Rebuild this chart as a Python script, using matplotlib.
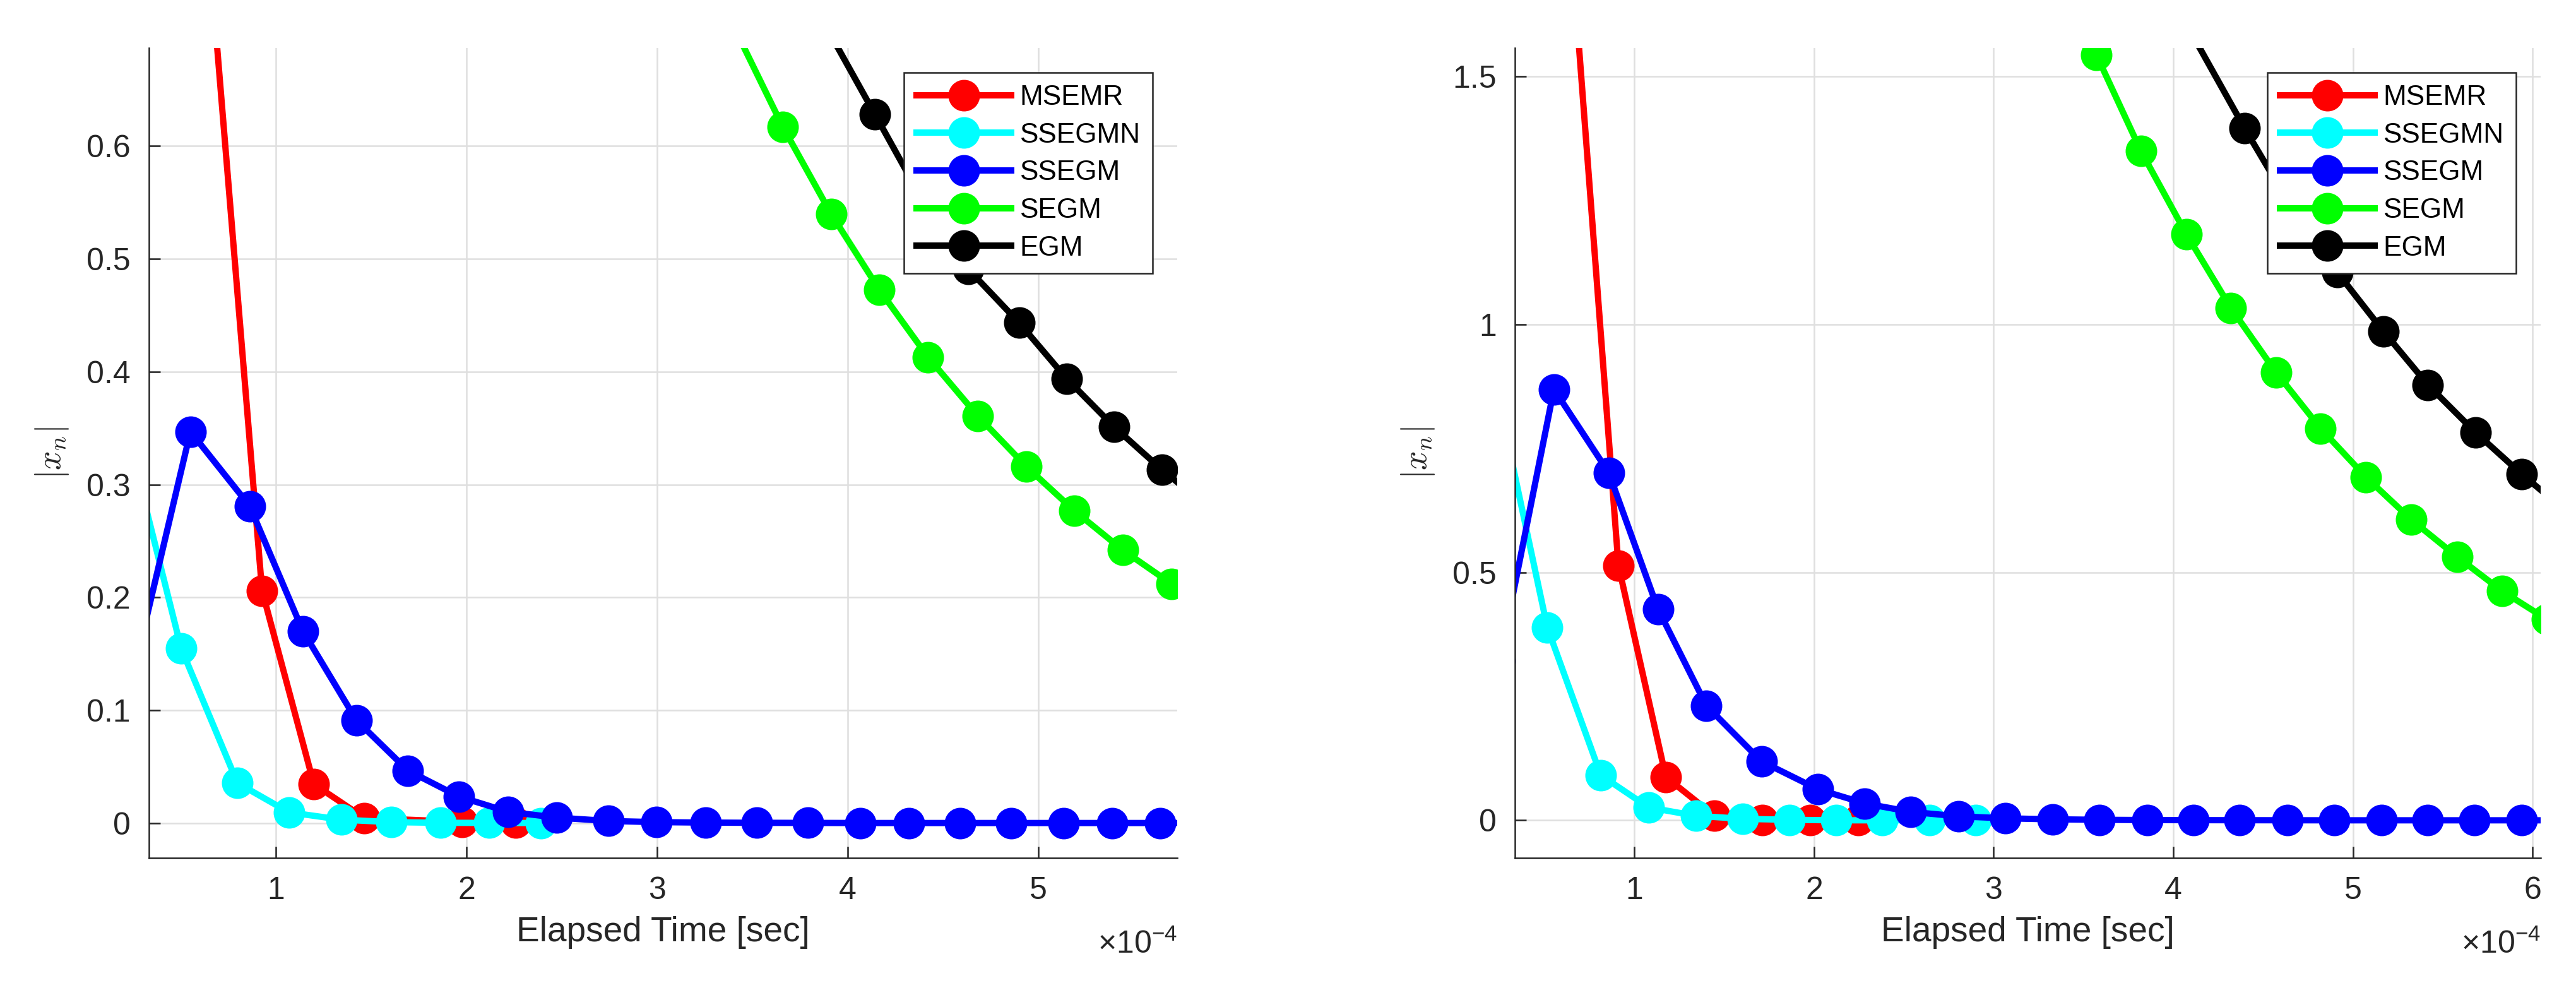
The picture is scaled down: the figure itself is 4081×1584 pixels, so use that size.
import matplotlib
matplotlib.use("Agg")
import matplotlib.pyplot as plt

# elapsed time in units of 1e-4 sec, |x_n|
# ---- left panel ----
t_msemr_l = [0.65, 0.926, 1.198, 1.463, 1.975, 2.256]
x_msemr_l = [0.77, 0.206, 0.0345, 0.0045, 0.001, 0.0003]

t_ssegmn_l = [0.20, 0.501, 0.797, 1.067, 1.342, 1.604, 1.862, 2.118, 2.390]
x_ssegmn_l = [0.358, 0.155, 0.0355, 0.0095, 0.003, 0.0008, 0.0002, 0.0001, 0.0]

t_ssegm_l = [0.25, 0.550, 0.861, 1.141, 1.422, 1.692, 1.959, 2.217, 2.473, 2.744, 2.998,
             3.256, 3.522, 3.793, 4.067, 4.322, 4.589, 4.860, 5.133, 5.389, 5.640, 5.905]
x_ssegm_l = [0.132, 0.347, 0.281, 0.170, 0.091, 0.0465, 0.0235, 0.010, 0.0048, 0.0018, 0.0008,
             0.0004, 0.0002, 0.0001, 0.0, 0.0, 0.0, 0.0, 0.0, 0.0, 0.0, 0.0]

t_segm_l = [3.405, 3.660, 3.913, 4.167, 4.422, 4.682, 4.938, 5.189, 5.444, 5.700, 5.955]
x_segm_l = [0.705, 0.617, 0.540, 0.4725, 0.413, 0.361, 0.316, 0.277, 0.242, 0.212, 0.186]

t_egm_l = [3.89, 4.144, 4.39, 4.633, 4.900, 5.149, 5.400, 5.651, 5.90]
x_egm_l = [0.705, 0.628, 0.553, 0.491, 0.4435, 0.394, 0.351, 0.313, 0.279]

# ---- right panel ----
t_msemr_r = [0.65, 0.911, 1.175, 1.446, 1.714, 1.980, 2.246]
x_msemr_r = [1.757, 0.514, 0.0875, 0.009, 0.001, 0.0, 0.0]

t_ssegmn_r = [0.23, 0.515, 0.813, 1.079, 1.343, 1.604, 1.865, 2.123, 2.380, 2.645, 2.900]
x_ssegmn_r = [0.873, 0.389, 0.091, 0.026, 0.009, 0.003, 0.001, 0.0, 0.0, 0.0, 0.0]

t_ssegm_r = [0.25, 0.552, 0.857, 1.131, 1.401, 1.707, 2.022, 2.283, 2.539, 2.805, 3.066, 3.329,
             3.590, 3.855, 4.112, 4.370, 4.634, 4.895, 5.160, 5.417, 5.675, 5.939, 6.20]
x_ssegm_r = [0.321, 0.869, 0.701, 0.426, 0.231, 0.119, 0.0625, 0.034, 0.017, 0.008, 0.004, 0.002,
             0.001, 0.0005, 0.0003, 0.0002, 0.0001, 0.0, 0.0, 0.0, 0.0, 0.0, 0.0]

t_segm_r = [3.572, 3.820, 4.072, 4.320, 4.572, 4.820, 5.072, 5.325, 5.581, 5.829, 6.08]
x_segm_r = [1.543, 1.349, 1.182, 1.033, 0.903, 0.790, 0.692, 0.606, 0.531, 0.4625, 0.405]

t_egm_r = [3.88, 4.397, 4.650, 4.912, 5.169, 5.417, 5.682, 5.939, 6.19]
x_egm_r = [1.73, 1.395, 1.240, 1.105, 0.986, 0.878, 0.782, 0.698, 0.622]

methods = ["MSEMR", "SSEGMN", "SSEGM", "SEGM", "EGM"]
colors = ["#ff0000", "#00ffff", "#0000ff", "#00ff00", "#000000"]

xticks_l = [1, 2, 3, 4, 5]
xticks_r = [1, 2, 3, 4, 5, 6]
yticks_l = [0, 0.1, 0.2, 0.3, 0.4, 0.5, 0.6]
ylabels_l = ["0", "0.1", "0.2", "0.3", "0.4", "0.5", "0.6"]
yticks_r = [0, 0.5, 1, 1.5]
ylabels_r = ["0", "0.5", "1", "1.5"]

plt.rcParams["font.family"] = ["Liberation Sans", "DejaVu Sans"]
plt.rcParams["mathtext.fontset"] = "custom"
plt.rcParams["mathtext.rm"] = "Liberation Sans"
plt.rcParams["mathtext.it"] = "Liberation Sans:italic"

AX_COLOR = "#262626"


def draw_panel(ax, data, xlim, ylim, xticks, yticks, ylabels):
    for (t, x), name, c in zip(data, methods, colors):
        ax.plot(t, x, "-o", color=c, lw=2.4, ms=11, label=name)
    ax.set_xlim(*xlim)
    ax.set_ylim(*ylim)
    ax.set_xticks(xticks)
    ax.set_xticklabels([str(v) for v in xticks])
    ax.set_yticks(yticks)
    ax.set_yticklabels(ylabels)
    ax.grid(True, color="#dfdfdf", lw=0.6)
    ax.set_axisbelow(True)
    for s in ["top", "right"]:
        ax.spines[s].set_visible(False)
    for s in ["left", "bottom"]:
        ax.spines[s].set_color(AX_COLOR)
        ax.spines[s].set_linewidth(0.6)
    ax.tick_params(direction="in", length=4.3, width=0.6, colors=AX_COLOR,
                   labelsize=12, pad=7)
    ax.set_xlabel("Elapsed Time [sec]", fontsize=13.2, color=AX_COLOR, labelpad=4)
    ax.set_ylabel(r"$|x_n|$", fontsize=13, color=AX_COLOR, labelpad=6,
                  math_fontfamily="cm")
    ax.text(1.0, -0.118, r"$\times10^{-4}$", transform=ax.transAxes, ha="right",
            va="baseline", fontsize=12, color=AX_COLOR)
    leg = ax.legend(loc="upper right", bbox_to_anchor=(0.976, 0.970), borderaxespad=0,
                    fontsize=10.6, fancybox=False, framealpha=1, edgecolor=AX_COLOR,
                    handlelength=3.4, handletextpad=0.3, labelspacing=0.42,
                    borderpad=0.45)
    leg.get_frame().set_linewidth(0.6)


fig = plt.figure(figsize=(4081 / 300, 1584 / 300), dpi=300)
ax1 = fig.add_axes([0.0578, 0.142, 0.3992, 0.810])
ax2 = fig.add_axes([0.5881, 0.142, 0.3982, 0.810])

draw_panel(ax1,
           [(t_msemr_l, x_msemr_l), (t_ssegmn_l, x_ssegmn_l), (t_ssegm_l, x_ssegm_l),
            (t_segm_l, x_segm_l), (t_egm_l, x_egm_l)],
           (0.332, 5.73), (-0.031, 0.687), xticks_l, yticks_l, ylabels_l)
draw_panel(ax2,
           [(t_msemr_r, x_msemr_r), (t_ssegmn_r, x_ssegmn_r), (t_ssegm_r, x_ssegm_r),
            (t_segm_r, x_segm_r), (t_egm_r, x_egm_r)],
           (0.335, 6.045), (-0.076, 1.557), xticks_r, yticks_r, ylabels_r)

fig.savefig("out.png", dpi=300)
